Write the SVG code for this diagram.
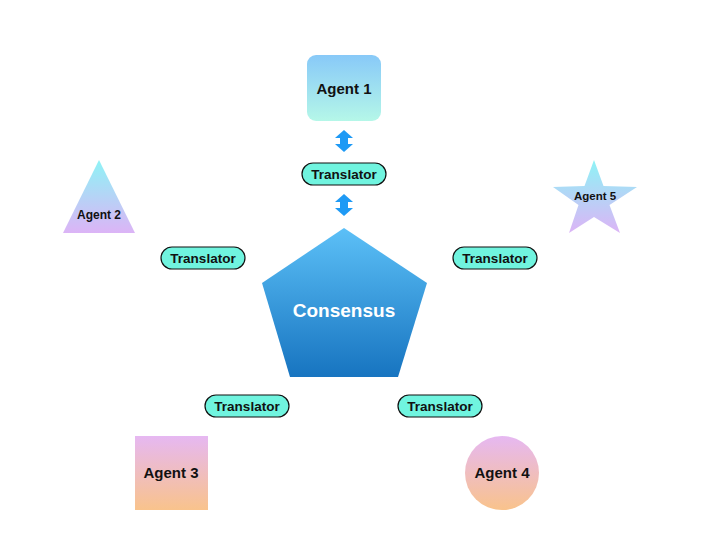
<svg xmlns="http://www.w3.org/2000/svg" width="720" height="533" viewBox="0 0 720 533">
<defs>
<linearGradient id="gBlue" x1="0" y1="0" x2="0" y2="1"><stop offset="0" stop-color="#88c9f8"/><stop offset="1" stop-color="#b5f7e8"/></linearGradient>
<linearGradient id="gCyan" x1="0" y1="0" x2="0" y2="1"><stop offset="0" stop-color="#8ef3f6"/><stop offset="1" stop-color="#dcb4f6"/></linearGradient>
<linearGradient id="gPeach" x1="0" y1="0" x2="0" y2="1"><stop offset="0" stop-color="#e6b8f2"/><stop offset="1" stop-color="#f9c38c"/></linearGradient>
<linearGradient id="gPent" x1="0" y1="0" x2="0" y2="1"><stop offset="0" stop-color="#5cc0f7"/><stop offset="1" stop-color="#1774c0"/></linearGradient>
<path id="darr" d="M0,-11 L9,-3 L4,-3 L4,3 L9,3 L0,11 L-9,3 L-4,3 L-4,-3 L-9,-3 Z" fill="#1e9af5"/>
</defs>
<style>
text{font-family:"Liberation Sans",Arial,sans-serif;font-weight:bold;text-anchor:middle;fill:#111}
.t{font-size:13.5px}
.a{font-size:15px}
.pill{fill:#70f4df;stroke:#111;stroke-width:1.2}
</style>
<rect width="720" height="533" fill="#fff"/>
<g id="connectors">
<use href="#darr" x="344" y="141"/>
<use href="#darr" x="344" y="205"/>
</g>
<g id="consensus"><polygon points="344,228 427,283 398,377 290,377 262,283" fill="url(#gPent)"/><text x="344" y="317" style="font-size:19px;fill:#fff">Consensus</text></g>
<g id="agent1"><rect x="307" y="55" width="74" height="66" rx="9" fill="url(#gBlue)"/><text class="a" x="344" y="94">Agent 1</text></g>
<g id="agent2"><polygon points="99,160 135,233 63,233" fill="url(#gCyan)"/><text x="99" y="219" style="font-size:12px">Agent 2</text></g>
<g id="agent3"><rect x="135" y="436" width="73" height="74" fill="url(#gPeach)"/><text class="a" x="171" y="478">Agent 3</text></g>
<g id="agent4"><circle cx="502" cy="473" r="37" fill="url(#gPeach)"/><text class="a" x="502" y="478">Agent 4</text></g>
<g id="agent5"><polygon points="594,160 603.5,186 637,187 609.5,205 620,233 594,217 569,233 578.5,205 553,187 584.5,186" fill="url(#gCyan)"/><text x="595" y="200" style="font-size:11.5px">Agent 5</text></g>
<g id="tr1"><rect class="pill" x="302" y="163" width="84" height="22" rx="11"/><text class="t" x="344" y="179">Translator</text></g>
<g id="tr2"><rect class="pill" x="161" y="247" width="84" height="22" rx="11"/><text class="t" x="203" y="263">Translator</text></g>
<g id="tr3"><rect class="pill" x="453" y="247" width="84" height="22" rx="11"/><text class="t" x="495" y="263">Translator</text></g>
<g id="tr4"><rect class="pill" x="205" y="395" width="84" height="22" rx="11"/><text class="t" x="247" y="411">Translator</text></g>
<g id="tr5"><rect class="pill" x="398" y="395" width="84" height="22" rx="11"/><text class="t" x="440" y="411">Translator</text></g>
</svg>
